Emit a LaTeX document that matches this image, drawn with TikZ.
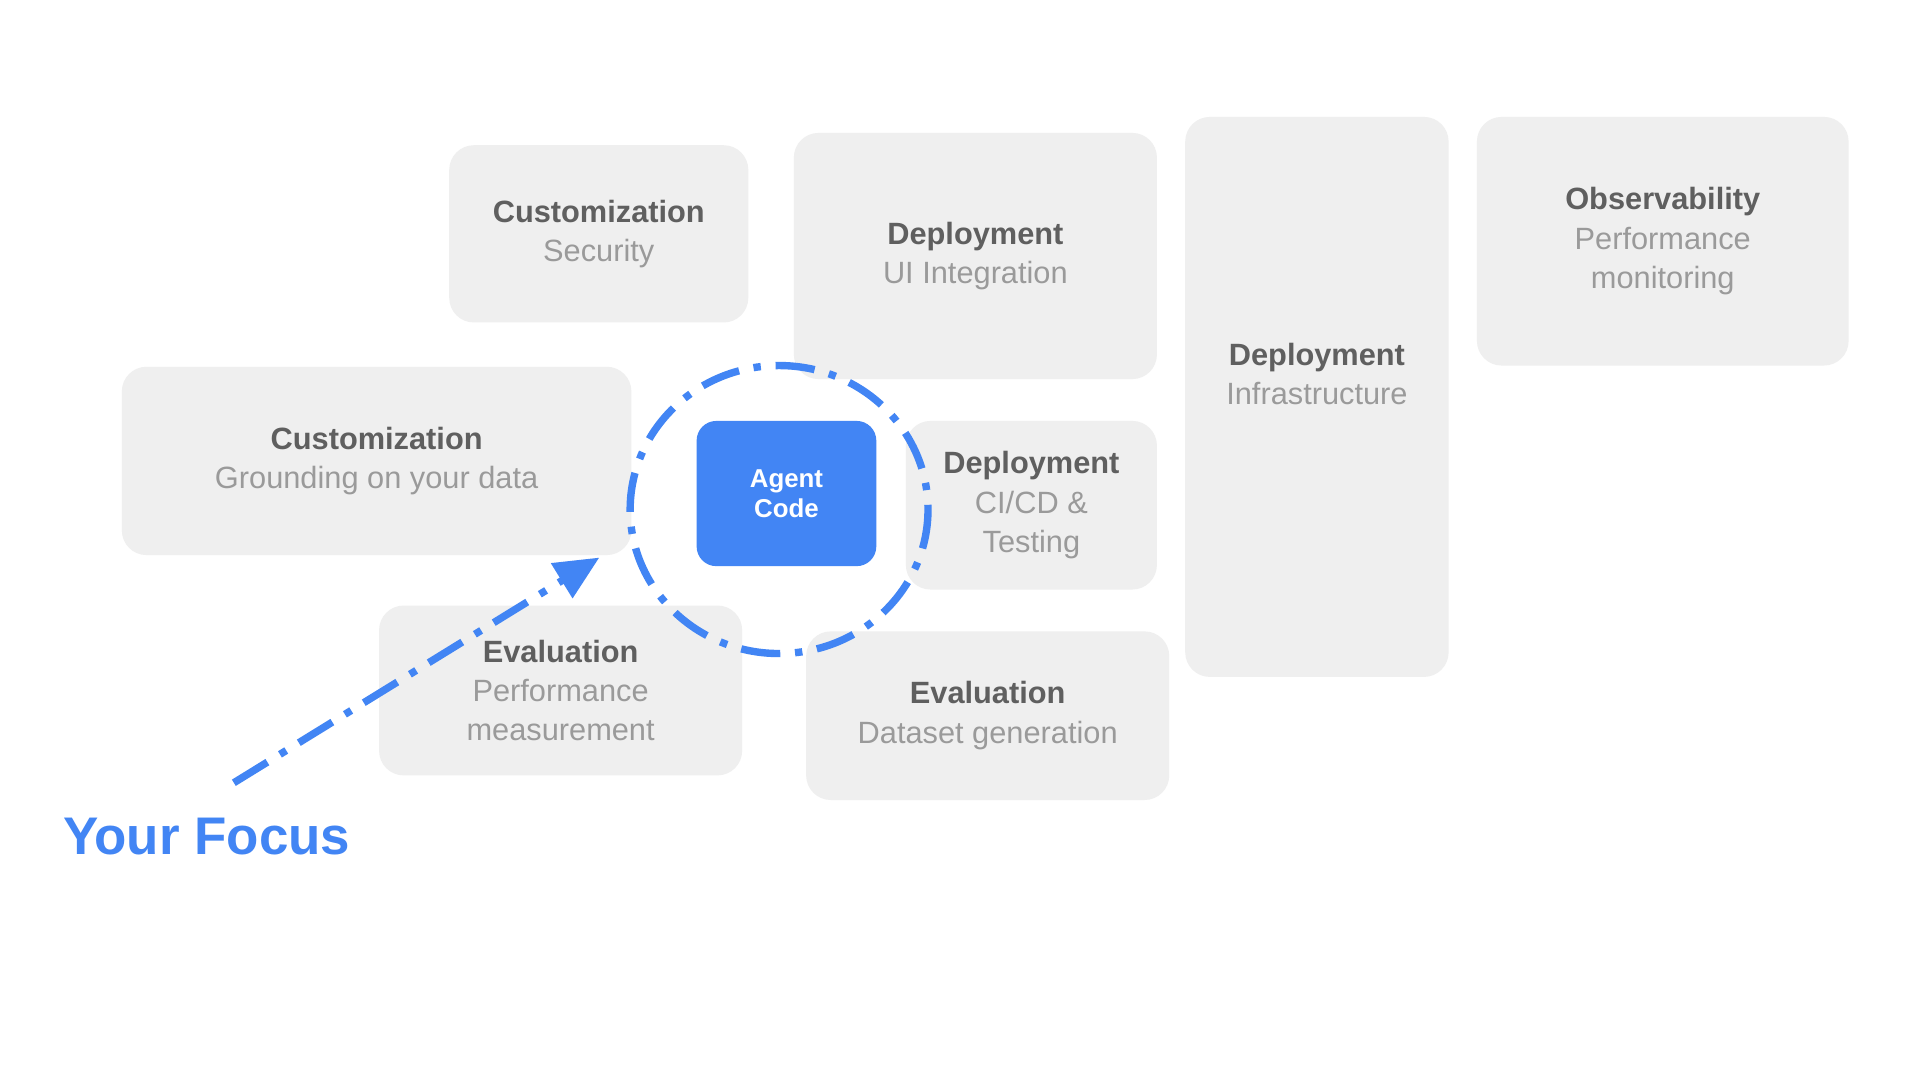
\documentclass[tikz,border=0pt]{standalone}
\usepackage{fontspec}
\setmainfont{Liberation Sans}
\usetikzlibrary{arrows.meta}
\definecolor{boxgray}{HTML}{EFEFEF}
\definecolor{titlegray}{HTML}{5F5F5F}
\definecolor{subgray}{HTML}{9A9A9A}
\definecolor{gblue}{HTML}{4285F4}
\begin{document}
\begin{tikzpicture}[x=0.5pt,y=-0.5pt,
  box/.style={fill=boxgray,draw=none,rounded corners=10pt},
  lbl/.style={align=center,font=\fontsize{12.5}{16}\selectfont,text=subgray},
  focus/.style={gblue,line width=3pt,dash pattern=on 16pt off 6pt on 3pt off 6pt}]
\useasboundingbox (0,0) rectangle (1560,877.5);
\fill[white] (0,0) rectangle (1560,877.5);
\newcommand{\ttl}[1]{\textcolor{titlegray}{\textbf{#1}}}
\node[box,minimum width=243*0.5pt,minimum height=144*0.5pt] (cs) at (486.5,190) {};
\node[lbl] at (cs) {\ttl{Customization}\\Security};
\node[box,minimum width=295*0.5pt,minimum height=200*0.5pt] (dui) at (792.5,208) {};
\node[lbl] at (dui) {\ttl{Deployment}\\UI Integration};
\node[box,minimum width=214*0.5pt,minimum height=455*0.5pt] (dinf) at (1070,322.5) {};
\node[lbl] at (1070,304) {\ttl{Deployment}\\Infrastructure};
\node[box,minimum width=302*0.5pt,minimum height=202*0.5pt] (obs) at (1351,196) {};
\node[lbl] at (obs) {\ttl{Observability}\\Performance\\monitoring};
\node[box,minimum width=414*0.5pt,minimum height=153*0.5pt] (cg) at (306,374.5) {};
\node[lbl] at (cg) {\ttl{Customization}\\Grounding on your data};
\node[box,minimum width=204*0.5pt,minimum height=137*0.5pt] (cicd) at (838,410.5) {};
\node[lbl] at (cicd) {\ttl{Deployment}\\CI/CD \&\\Testing};
\node[box,minimum width=295*0.5pt,minimum height=138*0.5pt] (ep) at (455.5,561) {};
\node[lbl] at (ep) {\ttl{Evaluation}\\Performance\\measurement};
\node[box,minimum width=295*0.5pt,minimum height=137*0.5pt] (ed) at (802.5,581.5) {};
\node[lbl] at (ed) {\ttl{Evaluation}\\Dataset generation};
\node[fill=gblue,rounded corners=8pt,minimum width=146*0.5pt,minimum height=118*0.5pt,align=center,text=white,font=\bfseries\fontsize{10.5}{12}\selectfont] (ac) at (639,401) {Agent\\Code};
\draw[focus] (633,414) ellipse [x radius=121, y radius=117];
\node[text=gblue,font=\bfseries\fontsize{21.5}{24}\selectfont] (yf) at (168,680) {Your Focus};
\coordinate (as) at (190,636);
\coordinate (ae) at (487,453);
\draw[focus,-{Triangle[length=18pt,width=16pt]}] (as) -- (ae);
\end{tikzpicture}
\end{document}
